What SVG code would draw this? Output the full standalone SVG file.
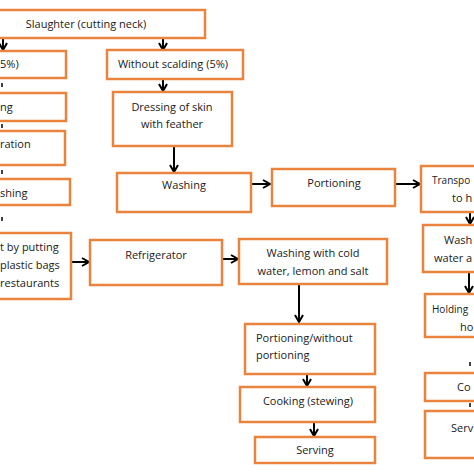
<svg xmlns="http://www.w3.org/2000/svg" width="474" height="474" viewBox="0 0 474 474">
<defs>
<marker id="ah" viewBox="0 0 10 10" refX="8" refY="5" markerWidth="5" markerHeight="5" orient="auto" markerUnits="strokeWidth">
<path d="M1,1 L8,5 L1,9" fill="none" stroke="#000" stroke-width="2"/>
</marker>
<style>
.b{fill:#fff;stroke:#E9833D;stroke-width:2.5}
.t{font-family:"Open Sans","Noto Sans",sans-serif;font-size:11px;fill:#1a1a1a}
.m{text-anchor:middle}
.n{font-size:10px}
.c{stroke:#000;stroke-width:2;fill:none;marker-end:url(#ah)}
.s{stroke:#000;stroke-width:1.5;fill:none}
</style>
</defs>
<rect width="474" height="474" fill="#fff"/>
<g id="connectors">
<line class="c" x1="3" y1="38" x2="3" y2="50"/>
<line class="c" x1="163" y1="38" x2="163" y2="50"/>
<line class="c" x1="163" y1="79" x2="163" y2="91"/>
<line class="c" x1="174" y1="146" x2="174" y2="172"/>
<line class="c" x1="251" y1="184" x2="270" y2="184"/>
<line class="c" x1="395" y1="184" x2="420" y2="184"/>
<line class="c" x1="470" y1="212" x2="470" y2="224"/>
<line class="c" x1="469" y1="272" x2="469" y2="293"/>
<line class="c" x1="71" y1="262" x2="89" y2="262"/>
<line class="c" x1="222" y1="259" x2="238" y2="259"/>
<line class="c" x1="299" y1="284" x2="299" y2="322"/>
<line class="c" x1="307" y1="374" x2="307" y2="386"/>
<line class="c" x1="314" y1="422" x2="314" y2="436"/>
<line class="s" x1="2" y1="83" x2="2" y2="87"/>
<line class="s" x1="2" y1="124" x2="2" y2="128"/>
<line class="s" x1="2" y1="170" x2="2" y2="174"/>
<line class="s" x1="2" y1="217" x2="2" y2="221"/>
<line class="s" x1="470" y1="362" x2="470" y2="366"/>
<line class="s" x1="470" y1="403" x2="470" y2="407"/>
</g>
<g id="slaughter"><rect class="b" x="-5" y="10" width="210" height="28"/><text class="t m" x="86" y="28">Slaughter (cutting neck)</text></g>
<g id="scalding"><rect class="b" x="-5" y="51" width="71" height="27"/><text class="t" x="0" y="68">5%)</text></g>
<g id="left2"><rect class="b" x="-5" y="93" width="71" height="28"/><text class="t" x="0" y="111">ng</text></g>
<g id="left3"><rect class="b" x="-5" y="131" width="70" height="34"/><text class="t" x="0" y="148">ration</text></g>
<g id="left4"><rect class="b" x="-5" y="179" width="75" height="26"/><text class="t" x="0" y="197">shing</text></g>
<g id="left5"><rect class="b" x="-5" y="233" width="76" height="66"/>
<text class="t" x="0" y="251">t by putting</text><text class="t" x="0" y="269">plastic bags</text><text class="t" x="0" y="287">restaurants</text></g>
<g id="without"><rect class="b" x="107" y="50" width="136" height="29"/><text class="t m" x="173" y="68">Without scalding (5%)</text></g>
<g id="dressing"><rect class="b" x="113" y="92" width="119" height="54"/><text class="t m" x="172" y="111">Dressing of skin</text><text class="t m" x="172" y="128">with feather</text></g>
<g id="washing"><rect class="b" x="117" y="173" width="134" height="39"/><text class="t m" x="184" y="189">Washing</text></g>
<g id="portioning"><rect class="b" x="272" y="169" width="123" height="37"/><text class="t m" x="334" y="187">Portioning</text></g>
<g id="transport"><rect class="b" x="421" y="166" width="60" height="46"/><text class="t n" x="432" y="184">Transpo</text><text class="t" x="452" y="202">to h</text></g>
<g id="wash"><rect class="b" x="423" y="225" width="60" height="47"/><text class="t" x="444" y="244">Wash</text><text class="t" x="434" y="262">water a</text></g>
<g id="holding"><rect class="b" x="425" y="294" width="60" height="43"/><text class="t n" x="432" y="313">Holding</text><text class="t" x="460" y="331">ho</text></g>
<g id="cooking2"><rect class="b" x="425" y="373" width="60" height="28"/><text class="t" x="457" y="391">Co</text></g>
<g id="serving2"><rect class="b" x="425" y="411" width="60" height="47"/><text class="t" x="451" y="432">Serv</text></g>
<g id="refrigerator"><rect class="b" x="90" y="240" width="132" height="45"/><text class="t m" x="156" y="259">Refrigerator</text></g>
<g id="washcold"><rect class="b" x="239" y="239" width="148" height="45"/><text class="t m" x="313" y="257">Washing with cold</text><text class="t m" x="313" y="275">water, lemon and salt</text></g>
<g id="portioning2"><rect class="b" x="245" y="324" width="130" height="50"/><text class="t" x="256" y="342">Portioning/without</text><text class="t" x="256" y="359">portioning</text></g>
<g id="cooking"><rect class="b" x="240" y="387" width="135" height="35"/><text class="t m" x="308" y="405">Cooking (stewing)</text></g>
<g id="serving"><rect class="b" x="255" y="437" width="120" height="26"/><text class="t m" x="315" y="454">Serving</text></g>
</svg>
